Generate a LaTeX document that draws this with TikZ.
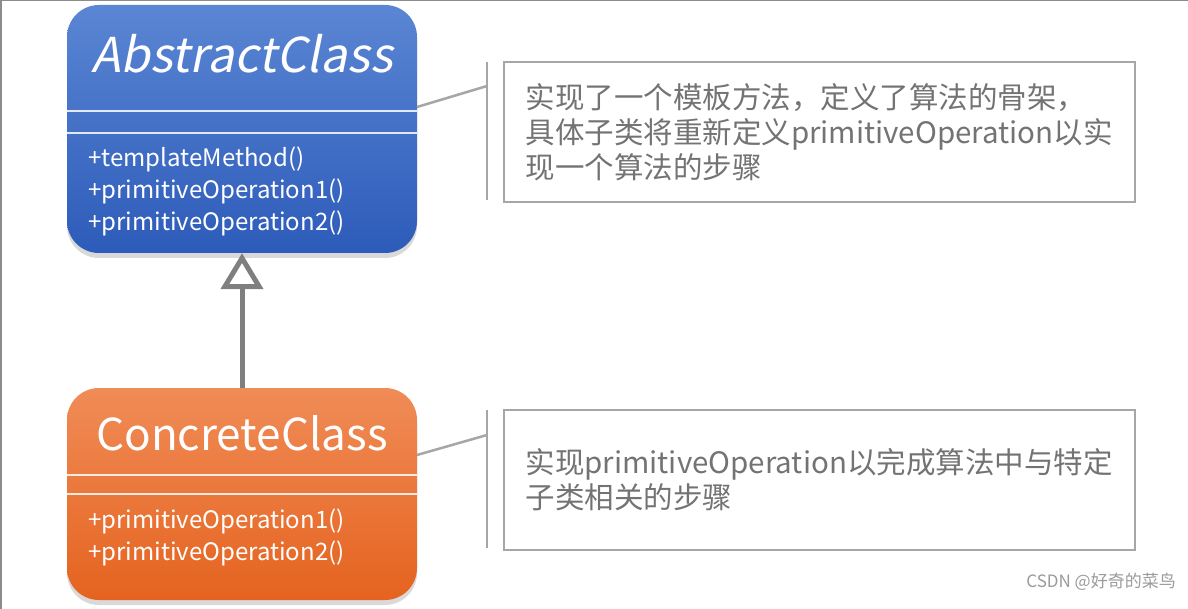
\documentclass[tikz,border=0pt]{standalone}
\usepackage{fontspec}
\setmainfont{Noto Sans CJK SC}
\newfontfamily\slantfont{Noto Sans CJK SC}[FakeSlant=0.2]
\usetikzlibrary{arrows.meta,shadows}
\definecolor{blueA}{HTML}{5B86D4}
\definecolor{blueB}{HTML}{2D5BB9}
\definecolor{orangeA}{HTML}{F08C57}
\definecolor{orangeB}{HTML}{E5631F}
\definecolor{notegray}{HTML}{A6A6A6}
\definecolor{notetext}{HTML}{737373}
\definecolor{arrowgray}{HTML}{7F7F7F}
\definecolor{markgray}{HTML}{9A9A9A}
\definecolor{framegray}{HTML}{8C8C8C}

\begin{document}
\begin{tikzpicture}[x=1pt,y=-1pt,
    classbox/.style={rounded corners=32pt,minimum width=350pt,inner sep=0pt,
      drop shadow={shadow xshift=0pt,shadow yshift=-5pt,opacity=0.3}},
    divider/.style={white,line width=1.2pt,opacity=0.85},
    classname/.style={text=white,inner sep=0pt},
    methods/.style={text=white,inner sep=0pt,align=left,font=\fontsize{24}{32}\selectfont},
    notebox/.style={draw=notegray,line width=2.5pt,minimum width=631pt,minimum height=140pt,
      text width=588pt,inner xsep=21pt,align=left,text=notetext,font=\fontsize{29.5}{35}\selectfont},
    tie/.style={draw=notegray,line width=2.5pt},
    inherit/.style={draw=arrowgray,line width=5pt,-{Triangle[open,length=36pt,width=42pt]}}]
  \useasboundingbox (0,0) rectangle (1188,609);
  \draw[framegray,line width=1.5pt] (0.75,609) -- (0.75,0.75) -- (1188,0.75);
  \node[classbox,top color=blueA,bottom color=blueB,minimum height=248pt] (abs) at (242,129) {};
  \node[classbox,top color=orangeA,bottom color=orangeB,minimum height=212pt] (conc) at (242,494) {};
  \draw[divider] (67,111) -- (417,111);
  \draw[divider] (67,133) -- (417,133);
  \draw[divider] (67,475) -- (417,475);
  \draw[divider] (67,494) -- (417,494);
  \node[classname,anchor=base,font=\fontsize{48}{56}\slantfont] (absname) at (242,73) {AbstractClass};
  \node[methods,anchor=base west] (absops) at (88,231) {+templateMethod()\\+primitiveOperation1()\\+primitiveOperation2()};
  \node[classname,anchor=base,font=\fontsize{44}{52}\selectfont] (concname) at (242,450) {ConcreteClass};
  \node[methods,anchor=base west] (concops) at (88,560) {+primitiveOperation1()\\+primitiveOperation2()};
  \draw[inherit] (conc.north) -- (abs.south);
  \node[notebox] (note1) at (819.5,132) {实现了一个模板方法，定义了算法的骨架，\\具体子类将重新定义primitiveOperation以实\\现一个算法的步骤};
  \node[notebox] (note2) at (819.5,480) {实现primitiveOperation以完成算法中与特定\\子类相关的步骤};
  \draw[tie] (487,62) -- (487,200);
  \draw[tie] (487,410) -- (487,548);
  \coordinate (absport) at (417,107);
  \coordinate (brk1) at (487,86);
  \coordinate (concport) at (417,455);
  \coordinate (brk2) at (487,435);
  \draw[tie] (absport) -- (brk1);
  \draw[tie] (concport) -- (brk2);
  \node[anchor=east,text=markgray,inner sep=0pt,font=\fontsize{17}{20}\selectfont] (mark) at (1176,582) {CSDN @好奇的菜鸟};
\end{tikzpicture}
\end{document}
